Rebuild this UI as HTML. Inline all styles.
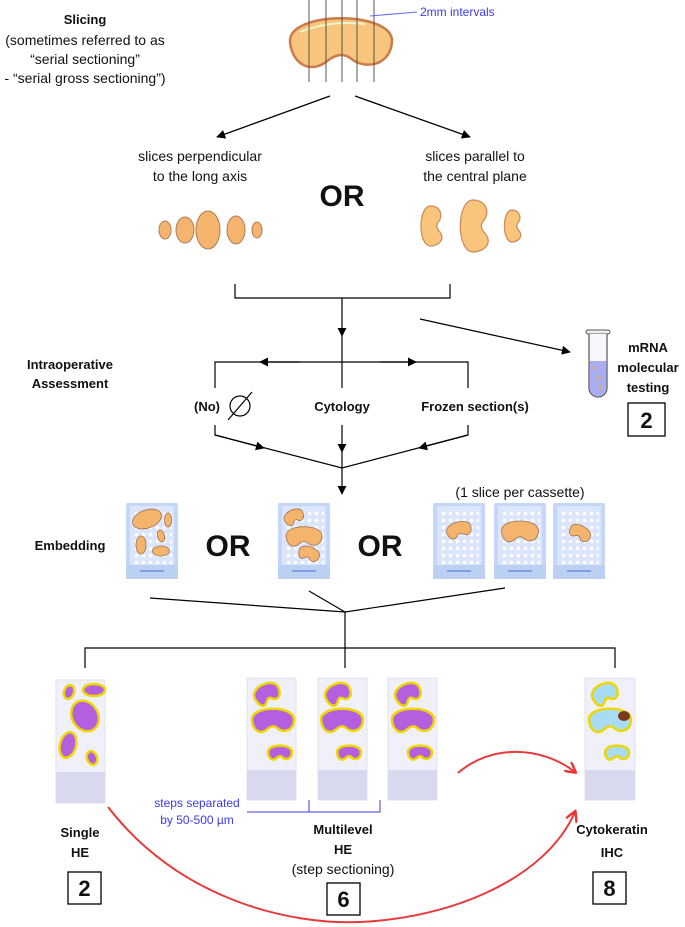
<!DOCTYPE html>
<html><head><meta charset="utf-8"><style>
html,body{margin:0;padding:0;background:#fff}
svg{display:block}
text{font-family:"Liberation Sans",sans-serif;fill:#111}
.b{font-weight:bold;font-size:13px}
.n{font-size:14px}
.or{font-weight:bold;font-size:30px}
</style></head><body>
<svg width="685" height="927" viewBox="0 0 685 927" xmlns="http://www.w3.org/2000/svg">
<defs>
<marker id="ah" viewBox="0 0 10 10" refX="9" refY="5" markerWidth="9" markerHeight="9" orient="auto-start-reverse" markerUnits="userSpaceOnUse"><path d="M0,0L10,5L0,10z" fill="#000"/></marker>
<marker id="ar" viewBox="0 0 10 10" refX="8" refY="5" markerWidth="12" markerHeight="12" orient="auto" markerUnits="userSpaceOnUse"><path d="M0,0L9,5L0,10" fill="none" stroke="#e33" stroke-width="2"/></marker>
<path id="kid" vector-effect="non-scaling-stroke" d="M-50,-2 C-52,-32 52,-32 50,-2 C48,22 22,24 10,14 C2,8 -6,10 -16,18 C-32,28 -48,18 -50,-2Z"/>
<g id="cas">
<rect x="0" y="0" width="52" height="76" rx="2" fill="#c6d6f8"/>
<rect x="4" y="3" width="44" height="60" fill="#dbe5fb"/>
<rect x="0" y="62" width="52" height="14" fill="#bcd0f4"/>
<line x1="14" y1="68" x2="38" y2="68" stroke="#6a8ee0" stroke-width="1.5"/>
</g>
<pattern id="holes" width="7" height="7" patternUnits="userSpaceOnUse"><circle cx="3.5" cy="3.5" r="1.8" fill="#fff"/></pattern>
</defs>

<text class="b" x="85" y="24" text-anchor="middle">Slicing</text>
<text class="n" x="85" y="45" text-anchor="middle">(sometimes referred to as</text>
<text class="n" x="85" y="64" text-anchor="middle">“serial sectioning”</text>
<text class="n" x="85" y="83" text-anchor="middle">- “serial gross sectioning”)</text>

<g transform="translate(341,44)"><use href="#kid" transform="scale(1.02,1.05)" fill="#f9c47c" stroke="#c97b4a" stroke-width="2.5"/></g>
<path d="M300,32 Q330,20 365,24" stroke="#eaf6c8" stroke-width="2" fill="none"/>
<g stroke="#555" stroke-width="1"><line x1="309" y1="0" x2="309" y2="82"/><line x1="326" y1="0" x2="326" y2="82"/><line x1="342" y1="0" x2="342" y2="82"/><line x1="357" y1="0" x2="357" y2="82"/><line x1="374" y1="0" x2="374" y2="82"/></g>
<line x1="370" y1="16" x2="417" y2="12" stroke="#6a6af0" stroke-width="1"/>
<text x="420" y="16" style="font-size:12px;fill:#3a3af0">2mm intervals</text>

<line x1="330" y1="96" x2="217" y2="137" stroke="#000" stroke-width="1.3" marker-end="url(#ah)"/>
<line x1="355" y1="96" x2="470" y2="137" stroke="#000" stroke-width="1.3" marker-end="url(#ah)"/>
<text class="n" x="200" y="161" text-anchor="middle">slices perpendicular</text>
<text class="n" x="200" y="181" text-anchor="middle">to the long axis</text>
<text class="n" x="475" y="161" text-anchor="middle">slices parallel to</text>
<text class="n" x="475" y="181" text-anchor="middle">the central plane</text>
<text class="or" x="342" y="206" text-anchor="middle">OR</text>

<g fill="#f4b46e" stroke="#b07a5a" stroke-width="1">
<ellipse cx="165" cy="230" rx="6" ry="9"/>
<ellipse cx="185" cy="230" rx="9" ry="13"/>
<ellipse cx="208" cy="230" rx="12" ry="19"/>
<ellipse cx="236" cy="230" rx="9" ry="14"/>
<ellipse cx="257" cy="230" rx="5" ry="8"/>
</g>
<g fill="#f9c47c" stroke="#c98a5a" stroke-width="1.2">
<use href="#kid" transform="translate(432,226) rotate(-90) scale(0.4,0.45)"/>
<use href="#kid" transform="translate(475,226) rotate(-90) scale(0.52,0.6)"/>
<use href="#kid" transform="translate(513,226) rotate(-90) scale(0.32,0.35)"/>
</g>

<g stroke="#000" stroke-width="1.2" fill="none">
<path d="M235,284 V298 H450 V284"/>
<line x1="342" y1="298" x2="342" y2="336" marker-end="url(#ah)"/>
<line x1="342" y1="336" x2="342" y2="388"/>
<path d="M215,388 V362 H468 V388"/>
<line x1="300" y1="362" x2="260" y2="362" marker-end="url(#ah)"/>
<line x1="380" y1="362" x2="416" y2="362" marker-end="url(#ah)"/>
<line x1="420" y1="319" x2="570" y2="352" marker-end="url(#ah)"/>
<path d="M215,425 V435 L342,468 L468,435 V425"/>
<line x1="215" y1="435" x2="264" y2="448" marker-end="url(#ah)"/>
<line x1="468" y1="435" x2="419" y2="448" marker-end="url(#ah)"/>
<line x1="342" y1="425" x2="342" y2="452" marker-end="url(#ah)"/>
<line x1="342" y1="452" x2="342" y2="494" marker-end="url(#ah)"/>
</g>
<text class="b" x="70" y="369" text-anchor="middle">Intraoperative</text>
<text class="b" x="70" y="388" text-anchor="middle">Assessment</text>
<text class="b" x="207" y="411" text-anchor="middle">(No)</text>
<circle cx="240" cy="406" r="10" fill="none" stroke="#000" stroke-width="1.2"/>
<line x1="228" y1="420" x2="252" y2="392" stroke="#000" stroke-width="1.2"/>
<text class="b" x="342" y="411" text-anchor="middle">Cytology</text>
<text class="b" x="475" y="411" text-anchor="middle">Frozen section(s)</text>

<rect x="586" y="330" width="24" height="4" rx="2" fill="#eee" stroke="#555"/>
<path d="M589,334 V388 a9,9 0 0 0 18,0 V334" fill="#f8f8fc" stroke="#555" stroke-width="1.2"/>
<path d="M589.6,361 V388 a8.4,8.4 0 0 0 16.8,0 V361z" fill="#a9aef0"/>
<g fill="#e8a860"><ellipse cx="595" cy="368" rx="1" ry="2.5"/><ellipse cx="598" cy="378" rx="1" ry="2.5"/><ellipse cx="601" cy="387" rx="1" ry="2.5"/></g>
<text class="b" x="648" y="352" text-anchor="middle">mRNA</text>
<text class="b" x="648" y="372" text-anchor="middle">molecular</text>
<text class="b" x="648" y="392" text-anchor="middle">testing</text>
<rect x="628" y="403" width="37" height="33" fill="#fff" stroke="#000" stroke-width="1.3"/>
<text x="646.5" y="428" text-anchor="middle" style="font-weight:bold;font-size:22px">2</text>

<text class="b" x="70" y="550" text-anchor="middle">Embedding</text>
<text class="or" x="228" y="556" text-anchor="middle">OR</text>
<text class="or" x="380" y="556" text-anchor="middle">OR</text>
<text class="n" x="520" y="497" text-anchor="middle">(1 slice per cassette)</text>
<g transform="translate(126,503)"><use href="#cas"/><rect x="6" y="5" width="40" height="56" fill="url(#holes)"/></g>
<g transform="translate(278,503)"><use href="#cas"/><rect x="6" y="5" width="40" height="56" fill="url(#holes)"/></g>
<g transform="translate(433,503)"><use href="#cas"/><rect x="6" y="5" width="40" height="56" fill="url(#holes)"/></g>
<g transform="translate(494,503)"><use href="#cas"/><rect x="6" y="5" width="40" height="56" fill="url(#holes)"/></g>
<g transform="translate(553,503)"><use href="#cas"/><rect x="6" y="5" width="40" height="56" fill="url(#holes)"/></g>
<g fill="#f4b46e" stroke="#a07050" stroke-width="0.8">
<ellipse cx="147" cy="519" rx="15" ry="9" transform="rotate(-20 147 519)"/>
<ellipse cx="168" cy="520" rx="3.5" ry="7"/>
<ellipse cx="141" cy="545" rx="5" ry="9"/>
<ellipse cx="161" cy="536" rx="3.5" ry="6" transform="rotate(-15 161 536)"/>
<ellipse cx="161" cy="551" rx="8.5" ry="5"/>
<use href="#kid" transform="translate(294,517) rotate(-25) scale(0.2,0.3)"/>
<use href="#kid" transform="translate(304,537) scale(0.36,0.42)"/>
<use href="#kid" transform="translate(309,554) rotate(20) scale(0.21,0.3)"/>
<use href="#kid" transform="translate(459,530) rotate(-15) scale(0.25,0.33)"/>
<use href="#kid" transform="translate(520,532) scale(0.37,0.45)"/>
<use href="#kid" transform="translate(580,533) rotate(30) scale(0.22,0.3)"/>
</g>

<g stroke="#000" stroke-width="1.2" fill="none">
<line x1="150" y1="598" x2="345" y2="612"/>
<line x1="309" y1="591" x2="345" y2="612"/>
<line x1="505" y1="588" x2="345" y2="612"/>
<line x1="345" y1="612" x2="345" y2="668"/>
<path d="M85,668 V648 H615 V668"/>
</g>

<g>
<rect x="56" y="680" width="49" height="123" fill="#f0f0fa" stroke="#e2e2f2"/><rect x="56" y="772" width="49" height="31" fill="#d8d8ee"/>
<rect x="247" y="678" width="49" height="122" fill="#f0f0fa" stroke="#e2e2f2"/><rect x="247" y="770" width="49" height="30" fill="#d8d8ee"/>
<rect x="318" y="678" width="49" height="122" fill="#f0f0fa" stroke="#e2e2f2"/><rect x="318" y="770" width="49" height="30" fill="#d8d8ee"/>
<rect x="388" y="678" width="49" height="122" fill="#f0f0fa" stroke="#e2e2f2"/><rect x="388" y="770" width="49" height="30" fill="#d8d8ee"/>
<rect x="585" y="678" width="50" height="122" fill="#f0f0fa" stroke="#e2e2f2"/><rect x="585" y="770" width="50" height="30" fill="#d8d8ee"/>
</g>
<g fill="#b45ee0" stroke="#ecd800" stroke-width="2.5">
<ellipse cx="69" cy="692" rx="5" ry="7" transform="rotate(20 69 692)"/>
<ellipse cx="94" cy="690" rx="11" ry="6"/>
<ellipse cx="85" cy="716" rx="13" ry="16" transform="rotate(-30 85 716)"/>
<ellipse cx="68" cy="745" rx="8" ry="13" transform="rotate(15 68 745)"/>
<ellipse cx="92" cy="758" rx="5" ry="7" transform="rotate(-20 92 758)"/>
<use href="#kid" transform="translate(267,694) rotate(-25) scale(0.26,0.42)"/>
<use href="#kid" transform="translate(273,721) scale(0.42,0.5)"/>
<use href="#kid" transform="translate(280,753) scale(0.24,0.3)"/>
<use href="#kid" transform="translate(338,694) rotate(-25) scale(0.26,0.42)"/>
<use href="#kid" transform="translate(342,721) scale(0.42,0.5)"/>
<use href="#kid" transform="translate(349,753) scale(0.24,0.3)"/>
<use href="#kid" transform="translate(408,694) rotate(-25) scale(0.26,0.42)"/>
<use href="#kid" transform="translate(413,721) scale(0.42,0.5)"/>
<use href="#kid" transform="translate(420,753) scale(0.24,0.3)"/>
</g>
<g fill="#a8dcf4" stroke="#ecd800" stroke-width="2.5">
<use href="#kid" transform="translate(605,694) rotate(-25) scale(0.26,0.42)"/>
<use href="#kid" transform="translate(610,721) scale(0.42,0.5)"/>
<use href="#kid" transform="translate(617,753) scale(0.24,0.3)"/>
</g>
<ellipse cx="624" cy="716" rx="6" ry="5" fill="#7a3a20"/>

<text x="197" y="807" text-anchor="middle" style="font-size:12px;fill:#3a3af0">steps separated</text>
<text x="197" y="824" text-anchor="middle" style="font-size:12px;fill:#3a3af0">by 50-500 µm</text>
<path d="M247,812 H380 V800 M309,812 V800" stroke="#3a3af0" stroke-width="1" fill="none"/>

<text class="b" x="80" y="837" text-anchor="middle">Single</text>
<text class="b" x="80" y="857" text-anchor="middle">HE</text>
<rect x="68" y="872" width="33" height="32" fill="#fff" stroke="#000" stroke-width="1.3"/>
<text x="84.5" y="896" text-anchor="middle" style="font-weight:bold;font-size:22px">2</text>
<text class="b" x="343" y="834" text-anchor="middle">Multilevel</text>
<text class="b" x="343" y="854" text-anchor="middle">HE</text>
<text class="n" x="343" y="874" text-anchor="middle">(step sectioning)</text>
<rect x="327" y="883" width="33" height="32" fill="#fff" stroke="#000" stroke-width="1.3"/>
<text x="343.5" y="907" text-anchor="middle" style="font-weight:bold;font-size:22px">6</text>
<text class="b" x="612" y="834" text-anchor="middle">Cytokeratin</text>
<text class="b" x="612" y="857" text-anchor="middle">IHC</text>
<rect x="593" y="872" width="33" height="32" fill="#fff" stroke="#000" stroke-width="1.3"/>
<text x="609.5" y="896" text-anchor="middle" style="font-weight:bold;font-size:22px">8</text>

<path d="M108,807 C180,900 290,925 360,922 C450,918 545,880 575,812" stroke="#e83a3a" stroke-width="2" fill="none" marker-end="url(#ar)"/>
<path d="M458,773 C490,745 540,745 575,772" stroke="#e83a3a" stroke-width="2" fill="none" marker-end="url(#ar)"/>
</svg>
</body></html>
